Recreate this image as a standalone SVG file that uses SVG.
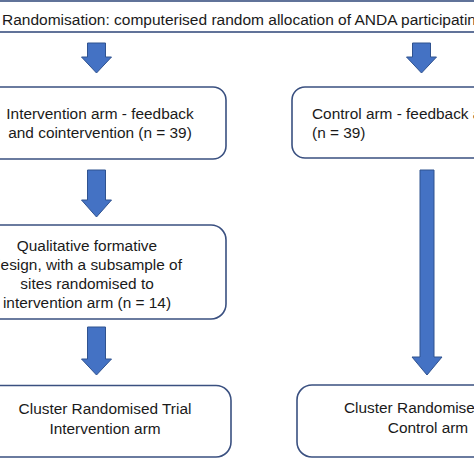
<svg xmlns="http://www.w3.org/2000/svg" width="474" height="474" viewBox="0 0 474 474">
<style>
  .box { fill: #ffffff; stroke: #3A5080; stroke-width: 1.6; }
  .arrow { fill: #4472C4; stroke: #2F528F; stroke-width: 1; }
  text { font-family: "Liberation Sans", Arial, sans-serif; font-size: 15.4px; fill: #1a1a1a; }
  .c { text-anchor: middle; }
</style>
<rect width="474" height="474" fill="#ffffff"/>
<g id="randomisation">
  <rect class="box" x="-6" y="1" width="486" height="31"/>
  <text x="2" y="25" textLength="474" lengthAdjust="spacingAndGlyphs">Randomisation: computerised random allocation of ANDA participatin</text>
</g>
<g id="intervention-arm">
  <rect class="box" x="-30" y="87" width="256" height="72" rx="13"/>
  <text class="c" x="100" y="119">Intervention arm - feedback</text>
  <text class="c" x="100" y="137.5">and cointervention (n = 39)</text>
</g>
<g id="control-arm">
  <rect class="box" x="292" y="87" width="210" height="71" rx="13"/>
  <text x="312" y="119">Control arm - feedback a</text>
  <text x="312" y="137.5">(n = 39)</text>
</g>
<g id="qualitative">
  <rect class="box" x="-40" y="225" width="266" height="94" rx="15"/>
  <text class="c" x="87" y="251">Qualitative formative</text>
  <text class="c" x="87" y="270">design, with a subsample of</text>
  <text class="c" x="87" y="289">sites randomised to</text>
  <text class="c" x="87" y="308">intervention arm (n = 14)</text>
</g>
<g id="crt-intervention">
  <rect class="box" x="-30" y="385.5" width="261" height="71.5" rx="15"/>
  <text class="c" x="105" y="414">Cluster Randomised Trial</text>
  <text class="c" x="105" y="433.5">Intervention arm</text>
</g>
<g id="crt-control">
  <rect class="box" x="297" y="385" width="210" height="72" rx="15"/>
  <text x="344" y="413">Cluster Randomised</text>
  <text class="c" x="428" y="432.5">Control arm</text>
</g>
<g id="connectors">
  <polygon class="arrow" points="87.5,43 105.5,43 105.5,57 111.5,57 96.5,73 81.5,57 87.5,57"/>
  <polygon class="arrow" points="412.5,43 430.5,43 430.5,57 436.5,57 421.5,73 406.5,57 412.5,57"/>
  <polygon class="arrow" points="87.5,170 105.5,170 105.5,200 111.5,200 96.5,217 81.5,200 87.5,200"/>
  <polygon class="arrow" points="87.5,327 105.5,327 105.5,359 111.5,359 96.5,375 81.5,359 87.5,359"/>
  <polygon class="arrow" points="420,170 434,170 434,357 442,357 427,375 412,357 420,357"/>
</g>
</svg>
